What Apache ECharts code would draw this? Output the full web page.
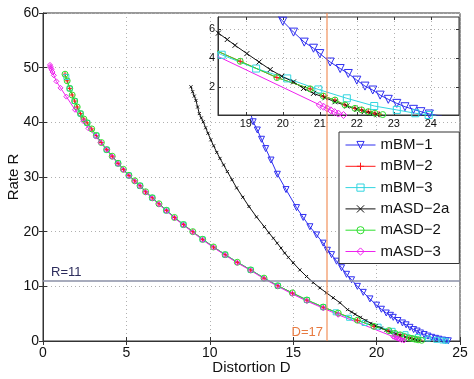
<!DOCTYPE html>
<html><head><meta charset="utf-8">
<script src="https://cdn.jsdelivr.net/npm/echarts@6/dist/echarts.min.js"></script>
<style>html,body{margin:0;padding:0;background:#fff}#c{width:474px;height:379px}</style>
</head><body><div id="c"></div>
<script>
// ---- data: [Distortion D, Rate R] ----
const seriesNames = ['mBM−1', 'mBM−2', 'mBM−3', 'mASD−2a', 'mASD−2', 'mASD−3'];

const mBM1 = [[12.0,46.0],[12.35,42.5],[12.6,40.1],[12.85,38.6],[13.1,36.9],[13.35,35.2],[13.67,33.1],
  [14.05,30.5],[14.57,27.7],[15.2,24.4],[15.6,22.6],[16.0,20.9],[16.4,19.4],[16.8,17.9],[17.05,16.6],
  [17.3,15.8],[17.6,14.6],[17.9,13.4],[18.2,12.2],[18.5,11.2],[18.85,10.0],[19.2,8.9],[19.6,7.7],
  [20.0,6.56],[20.29,5.81],[20.58,5.12],[20.83,4.7],[21.0,4.33],[21.28,3.75],[21.55,3.3],[21.77,2.96],
  [22.0,2.5],[22.22,2.09],[22.43,1.82],[22.63,1.47],[22.85,1.18],[23.08,0.9],[23.3,0.67],[23.53,0.49],
  [23.73,0.33],[23.96,0.17],[24.15,0.08],[24.3,0.03]];

const mBM2 = [[1.32,48.8],[1.45,47.6],[1.6,46.2],[1.75,45.0],[1.9,43.9],[2.05,42.8],[2.25,41.6],[2.45,40.6],
  [2.65,39.9],[2.92,38.8],[3.2,37.6],[3.5,36.3],[3.82,35.0],[4.15,33.8],[4.5,32.5],[4.82,31.4],[5.15,30.3],
  [5.5,29.3],[5.82,28.4],[6.15,27.3],[6.55,26.2],[6.95,25.1],[7.4,23.9],[7.88,22.6],[8.42,21.3],[8.98,20.0],
  [9.57,18.6],[10.22,17.2],[10.92,15.8],[11.65,14.4],[12.45,13.0],[13.25,11.5],[14.08,10.1],[14.95,8.8],
  [15.82,7.5],[16.8,6.2],[17.7,5.1],[18.85,3.8],[19.84,2.68],[20.74,1.9],[21.1,1.4],[21.41,1.13],
  [21.68,0.8],[21.95,0.56],[22.13,0.45],[22.31,0.33],[22.49,0.22],[22.6,0.16]];

const mBM3 = [[1.4,48.3],[1.6,46.2],[1.9,43.9],[2.25,41.6],[2.65,39.9],[3.2,37.6],[3.82,35.0],[4.5,32.5],
  [5.15,30.3],[5.82,28.4],[6.55,26.2],[7.4,23.9],[8.42,21.3],[9.57,18.6],[10.92,15.8],[12.45,13.0],
  [14.08,10.1],[15.82,7.5],[16.8,6.2],[17.55,5.25],[18.35,4.25],[19.28,3.3],[20.12,2.62],[20.96,1.86],
  [21.73,1.25],[22.47,0.72],[23.08,0.45],[23.58,0.22],[23.94,0.1],[24.15,0.05]];

const mASD2a = [[8.87,46.5],[8.97,45.6],[9.07,44.8],[9.17,44.0],[9.27,42.8],[9.37,41.6],[9.49,40.8],
  [9.61,40.1],[9.75,39.0],[9.89,38.0],[10.06,36.8],[10.23,35.7],[10.42,34.5],[10.61,33.4],[10.83,32.2],
  [11.05,31.0],[11.33,29.5],[11.61,28.0],[11.98,26.3],[12.35,24.6],[12.8,22.7],[13.27,20.9],[13.54,19.8],
  [13.81,18.8],[14.04,17.9],[14.27,17.0],[14.49,16.1],[14.71,15.3],[15.0,14.3],[15.4,13.0],[15.8,11.8],
  [16.2,10.7],[16.6,9.7],[17.0,8.8],[17.4,7.9],[17.8,7.0],[18.26,5.74],[18.5,5.3],[18.71,4.9],[19.03,4.33],
  [19.36,3.75],[19.66,3.23],[19.97,2.77],[20.29,2.38],[20.56,1.93],[20.83,1.59],[21.14,1.29],[21.41,1.01],
  [21.73,0.72],[22.0,0.49],[22.2,0.33],[22.36,0.22],[22.55,0.12]];

const mASD2 = [[1.32,48.8],[1.45,47.6],[1.6,46.2],[1.75,45.0],[1.9,43.9],[2.05,42.8],[2.25,41.6],[2.45,40.6],
  [2.65,39.9],[2.92,38.8],[3.2,37.6],[3.5,36.3],[3.82,35.0],[4.15,33.8],[4.5,32.5],[4.82,31.4],[5.15,30.3],
  [5.5,29.3],[5.82,28.4],[6.15,27.3],[6.55,26.2],[6.95,25.1],[7.4,23.9],[7.88,22.6],[8.42,21.3],[8.98,20.0],
  [9.57,18.6],[10.22,17.2],[10.92,15.8],[11.65,14.4],[12.45,13.0],[13.25,11.5],[14.08,10.1],[14.95,8.8],
  [15.82,7.5],[16.8,6.2],[17.7,5.1],[18.85,3.8],[19.84,2.68],[20.74,1.9],[21.1,1.4],[21.41,1.13],
  [21.68,0.8],[21.95,0.56],[22.13,0.45],[22.31,0.33],[22.49,0.22],[22.7,0.13]];

const mASD3 = [[0.42,50.5],[0.45,50.2],[0.48,49.9],[0.52,49.6],[0.57,49.2],[0.65,48.6],[0.8,47.5],[1.05,46.3],
  [1.4,44.7],[1.92,42.3],[2.42,40.2],[2.72,38.9],[3.18,37.4],[3.45,36.3],[3.82,35.0],[4.15,33.7],[4.5,32.4],
  [4.82,31.3],[5.15,30.2],[5.5,29.2],[5.82,28.3],[6.15,27.2],[6.55,26.1],[6.95,25.0],[7.4,23.8],[7.88,22.5],
  [8.42,21.2],[8.98,19.9],[9.57,18.5],[10.22,17.1],[10.92,15.7],[11.65,14.3],[12.45,12.9],[13.25,11.4],
  [14.08,10.0],[14.95,8.6],[15.82,7.3],[16.8,6.0],[17.7,4.8],[21.0,0.79],[21.1,0.67],[21.2,0.55],
  [21.3,0.42],[21.4,0.3],[21.5,0.2],[21.64,0.1]];

const insetXTicks = [19, 20, 21, 22, 23, 24];
const insetYTicks = [2, 4, 6];
const refR = 11;
const refD = 17;

// ---- styles ----
const FONT = 'Liberation Sans, Arial, Helvetica, sans-serif';
const PLUS = 'path://M5,0L5,10M0,5L10,5';
const CROSS = 'path://M0,0L10,10M10,0L0,10';
const styles = [
  {c:'#2f2ff0', sym:'triangle', rot:180, main:6, inset:8},
  {c:'#ff1a1a', sym:PLUS, rot:0, main:5, inset:6},
  {c:'#33d6e0', sym:'rect', rot:0, main:5, inset:7},
  {c:'#111111', sym:CROSS, rot:0, main:3, inset:5},
  {c:'#2fdf2f', sym:'circle', rot:0, main:6, inset:6},
  {c:'#ee22ee', sym:'diamond', rot:0, main:5, inset:7}
];
const allData = [mBM1, mBM2, mBM3, mASD2a, mASD2, mASD3];
const HOLLOW = 'rgba(255,255,255,0)';

function mkSeries(i, inset) {
  const s = styles[i];
  return {
    type: 'line', name: seriesNames[i], data: allData[i],
    xAxisIndex: inset ? 2 : 0, yAxisIndex: inset ? 2 : 0,
    symbol: s.sym, symbolRotate: s.rot, symbolSize: inset ? s.inset : s.main,
    showAllSymbol: true, clip: true, z: inset ? 12 : 2,
    lineStyle: {color: s.c, width: 1},
    itemStyle: {color: HOLLOW, borderColor: s.c, borderWidth: 1},
    emphasis: {disabled: true}
  };
}

const series = [];
for (let i = 0; i < 6; i++) series.push(mkSeries(i, false));
for (let i = 0; i < 6; i++) series.push(mkSeries(i, true));

series[0].markLine = {
  z: 20, silent: true, symbol: 'none', animation: false,
  data: [
    {yAxis: refR, lineStyle: {color: '#8a8fa6', width: 1.5, type: 'solid'},
     label: {show: true, formatter: 'R=' + refR, position: 'insideStartTop', distance: [8, 2],
             color: '#2c2c5c', fontSize: 13, fontFamily: FONT}},
    {xAxis: refD, lineStyle: {color: '#f08a50', width: 1.5, type: 'solid', opacity: 0.75},
     label: {show: false}}
  ]
};
series[0].markPoint = {
  silent: true, animation: false,
  data: [{coord: [refD, 0], symbol: 'rect', symbolSize: 1, itemStyle: {color: 'rgba(0,0,0,0)'},
    label: {show: true, formatter: 'D=' + refD, position: 'left', distance: 3, offset: [0, -9],
            color: '#e87a40', fontSize: 13, fontFamily: FONT}}]
};

const legendData = seriesNames.map((n, i) => ({
  name: n,
  itemStyle: {color: HOLLOW, borderColor: styles[i].c, borderWidth: 1},
  lineStyle: {color: styles[i].c, width: 1}
}));

const tickCommon = {show: true, inside: true, length: 4, lineStyle: {color: '#333'}};
const splitDotted = {show: true, lineStyle: {color: '#b0b0b0', type: [1, 3], width: 1}};

const option = {
  animation: false,
  backgroundColor: '#fff',
  textStyle: {fontFamily: FONT},
  grid: [
    {left: 43, top: 13, width: 417, height: 328, show: true, borderColor: '#333', borderWidth: 1, z: 0,
     containLabel: false, outerBoundsMode: 'none'},
    {left: 218, top: 17, width: 241, height: 98, show: true, backgroundColor: '#fff',
     borderColor: '#333', borderWidth: 1, z: 10, containLabel: false, outerBoundsMode: 'none'}
  ],
  legend: {
    data: legendData, orient: 'vertical', left: 339, top: 132,
    itemWidth: 30, itemHeight: 9, itemGap: 5.3,
    padding: [5, 10, 4, 6], backgroundColor: '#fff', borderColor: '#333', borderWidth: 1,
    textStyle: {fontSize: 15, color: '#111', fontFamily: FONT, lineHeight: 16},
    z: 30, selectedMode: false
  },
  xAxis: [
    {type: 'value', gridIndex: 0, min: 0, max: 25, interval: 5, position: 'bottom',
     name: 'Distortion D', nameLocation: 'middle', nameGap: 19, nameMoveOverlap: false,
     nameTextStyle: {fontSize: 15, color: '#111', fontFamily: FONT},
     axisLine: {show: true, lineStyle: {color: '#333', width: 1}}, axisTick: tickCommon,
     axisLabel: {fontSize: 14, color: '#111', margin: 5, fontFamily: FONT}, splitLine: splitDotted},
    {type: 'value', gridIndex: 0, min: 0, max: 25, interval: 5, position: 'top',
     axisLine: {show: false}, axisTick: tickCommon, axisLabel: {show: false}, splitLine: {show: false}},
    {type: 'value', gridIndex: 1, min: 18.25, max: 24.76, position: 'bottom', z: 11,
     axisLine: {show: true, lineStyle: {color: '#333', width: 1}},
     axisTick: {show: true, inside: true, length: 3, lineStyle: {color: '#333'}, customValues: insetXTicks},
     axisLabel: {fontSize: 11, color: '#111', margin: 3, fontFamily: FONT, customValues: insetXTicks},
     splitLine: splitDotted},
    {type: 'value', gridIndex: 1, min: 18.25, max: 24.76, position: 'top', z: 11,
     axisLine: {show: false},
     axisTick: {show: true, inside: true, length: 3, lineStyle: {color: '#333'}, customValues: insetXTicks},
     axisLabel: {show: false}, splitLine: {show: false}}
  ],
  yAxis: [
    {type: 'value', gridIndex: 0, min: 0, max: 60, interval: 10, position: 'left',
     name: 'Rate R', nameLocation: 'middle', nameGap: 22, nameMoveOverlap: false,
     nameTextStyle: {fontSize: 15, color: '#111', fontFamily: FONT},
     axisLine: {show: true, lineStyle: {color: '#333', width: 1}}, axisTick: tickCommon,
     axisLabel: {fontSize: 14, color: '#111', margin: 4, fontFamily: FONT}, splitLine: splitDotted},
    {type: 'value', gridIndex: 0, min: 0, max: 60, interval: 10, position: 'right',
     axisLine: {show: false}, axisTick: tickCommon, axisLabel: {show: false}, splitLine: {show: false}},
    {type: 'value', gridIndex: 1, min: 0.1, max: 6.85, position: 'left', z: 11,
     axisLine: {show: true, lineStyle: {color: '#333', width: 1}},
     axisTick: {show: true, inside: true, length: 3, lineStyle: {color: '#333'}, customValues: insetYTicks},
     axisLabel: {fontSize: 11, color: '#111', margin: 3, fontFamily: FONT, customValues: insetYTicks},
     splitLine: splitDotted},
    {type: 'value', gridIndex: 1, min: 0.1, max: 6.85, position: 'right', z: 11,
     axisLine: {show: false},
     axisTick: {show: true, inside: true, length: 3, lineStyle: {color: '#333'}, customValues: insetYTicks},
     axisLabel: {show: false}, splitLine: {show: false}}
  ],
  series: series
};

const chart = echarts.init(document.getElementById('c'), null, {renderer: 'canvas'});
chart.setOption(option);
</script></body></html>
